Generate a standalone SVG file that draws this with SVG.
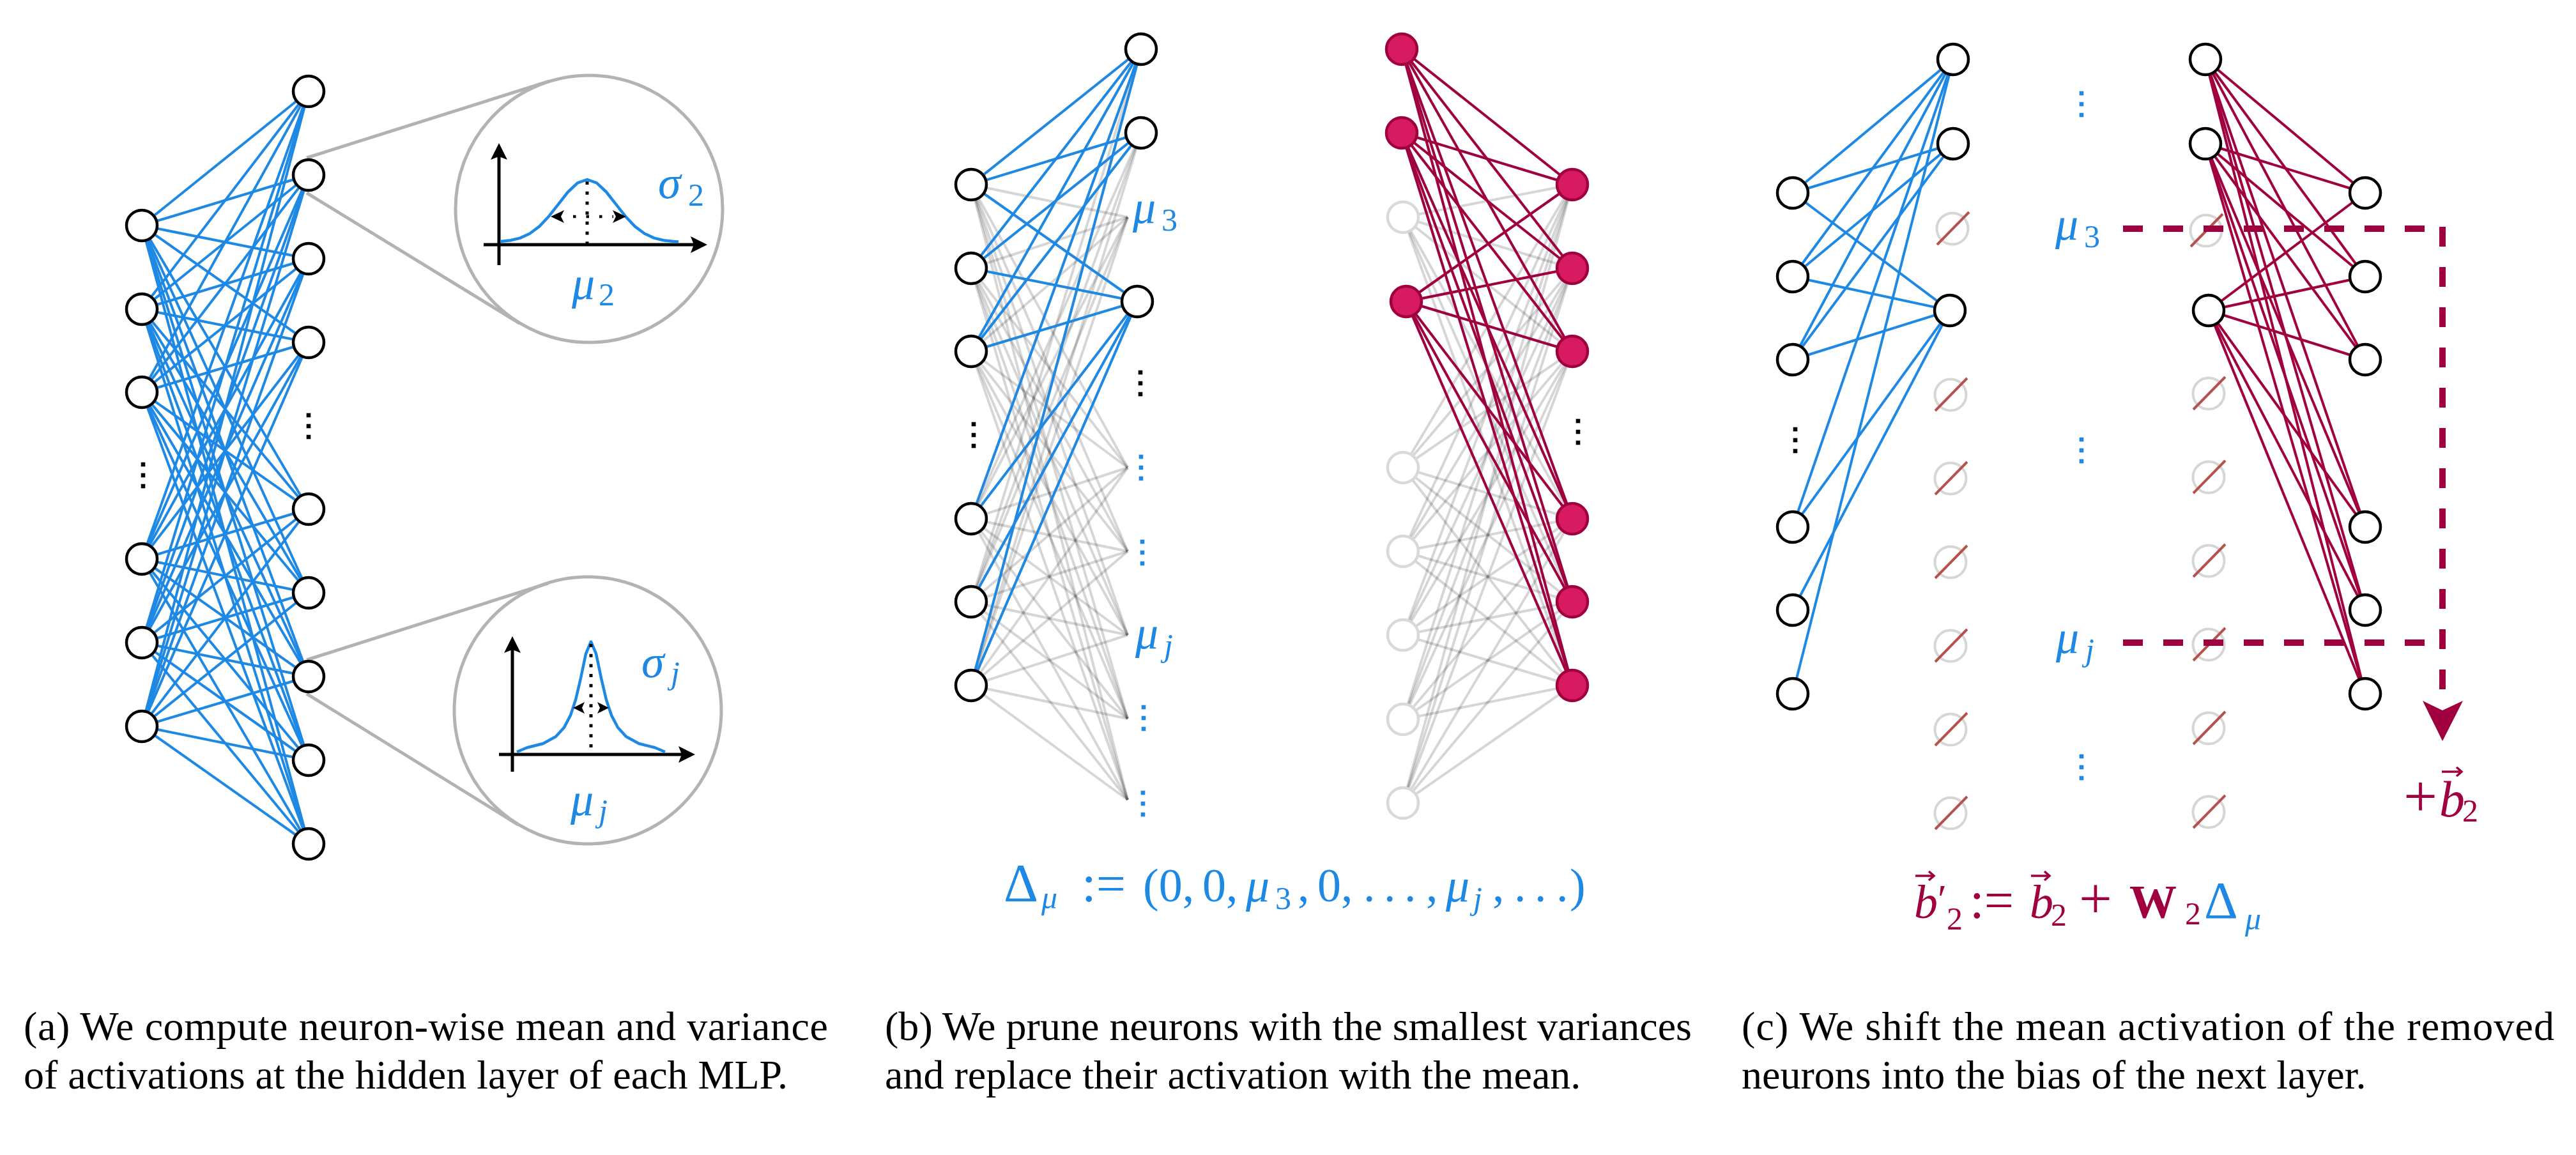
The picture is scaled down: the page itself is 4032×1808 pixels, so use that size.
<svg xmlns="http://www.w3.org/2000/svg" xmlns:xlink="http://www.w3.org/1999/xlink" width="4032" height="1808" viewBox="0 0 4032 1808">
<defs>
<style>
.n{fill:#fff;stroke:#000;stroke-width:4.5}
.rn{fill:#d81b60;stroke:#a0003f;stroke-width:4.5}
.gn{fill:#fff;stroke:#d9d9d9;stroke-width:4.5}
.bl line{stroke:#1e88e5;stroke-width:4}
.rd line{stroke:#a0003f;stroke-width:4}
.gr line{stroke:#000;stroke-opacity:.16;stroke-width:4}
.lens{fill:none;stroke:#b3b3b3;stroke-width:5}
.lensl{stroke:#000;stroke-opacity:.3;stroke-width:5}
.ax{stroke:#000;stroke-width:5;fill:none}
.dt{stroke:#000;stroke-width:5;fill:none;stroke-dasharray:5 10.7}
.gauss{fill:none;stroke:#1e88e5;stroke-width:4.5;stroke-linejoin:round}
.m{font-family:"Liberation Serif","DejaVu Serif",serif;font-style:italic;font-size:72px;fill:#1e88e5}
.up{font-style:normal}
.sb{font-size:50px}
.cap{font-family:"Liberation Serif","Times New Roman",serif;font-size:64px;fill:#000}
.dash{stroke:#a0003f;stroke-width:10;fill:none;stroke-dasharray:31 32}
.bk{fill:#000}
.bu{fill:#1e88e5}
</style>
<g id="vd"><rect x="-3.3" y="-20.3" width="6.6" height="6.6"/><rect x="-3.3" y="-3.3" width="6.6" height="6.6"/><rect x="-3.3" y="13.7" width="6.6" height="6.6"/></g>
<g id="emp"><circle r="24.5" fill="none" stroke="#d6d6d6" stroke-width="4"/><line x1="-24" y1="25" x2="26" y2="-26" stroke="#b5524b" stroke-width="4"/></g>
</defs>
<rect width="4032" height="1808" fill="#fff"/>

<!-- ===== Panel (a) connectors ===== -->
<g id="connectors-a" class="bl">
<line x1="222" y1="353" x2="483" y2="143"/><line x1="222" y1="353" x2="483" y2="274"/><line x1="222" y1="353" x2="483" y2="405"/><line x1="222" y1="353" x2="483" y2="536"/><line x1="222" y1="353" x2="483" y2="797"/><line x1="222" y1="353" x2="483" y2="928"/><line x1="222" y1="353" x2="483" y2="1059"/><line x1="222" y1="353" x2="483" y2="1190"/><line x1="222" y1="353" x2="483" y2="1321"/>
<line x1="222" y1="484" x2="483" y2="143"/><line x1="222" y1="484" x2="483" y2="274"/><line x1="222" y1="484" x2="483" y2="405"/><line x1="222" y1="484" x2="483" y2="536"/><line x1="222" y1="484" x2="483" y2="797"/><line x1="222" y1="484" x2="483" y2="928"/><line x1="222" y1="484" x2="483" y2="1059"/><line x1="222" y1="484" x2="483" y2="1190"/><line x1="222" y1="484" x2="483" y2="1321"/>
<line x1="222" y1="614" x2="483" y2="143"/><line x1="222" y1="614" x2="483" y2="274"/><line x1="222" y1="614" x2="483" y2="405"/><line x1="222" y1="614" x2="483" y2="536"/><line x1="222" y1="614" x2="483" y2="797"/><line x1="222" y1="614" x2="483" y2="928"/><line x1="222" y1="614" x2="483" y2="1059"/><line x1="222" y1="614" x2="483" y2="1190"/><line x1="222" y1="614" x2="483" y2="1321"/>
<line x1="222" y1="875" x2="483" y2="143"/><line x1="222" y1="875" x2="483" y2="274"/><line x1="222" y1="875" x2="483" y2="405"/><line x1="222" y1="875" x2="483" y2="536"/><line x1="222" y1="875" x2="483" y2="797"/><line x1="222" y1="875" x2="483" y2="928"/><line x1="222" y1="875" x2="483" y2="1059"/><line x1="222" y1="875" x2="483" y2="1190"/><line x1="222" y1="875" x2="483" y2="1321"/>
<line x1="222" y1="1006" x2="483" y2="143"/><line x1="222" y1="1006" x2="483" y2="274"/><line x1="222" y1="1006" x2="483" y2="405"/><line x1="222" y1="1006" x2="483" y2="536"/><line x1="222" y1="1006" x2="483" y2="797"/><line x1="222" y1="1006" x2="483" y2="928"/><line x1="222" y1="1006" x2="483" y2="1059"/><line x1="222" y1="1006" x2="483" y2="1190"/><line x1="222" y1="1006" x2="483" y2="1321"/>
<line x1="222" y1="1137" x2="483" y2="143"/><line x1="222" y1="1137" x2="483" y2="274"/><line x1="222" y1="1137" x2="483" y2="405"/><line x1="222" y1="1137" x2="483" y2="536"/><line x1="222" y1="1137" x2="483" y2="797"/><line x1="222" y1="1137" x2="483" y2="928"/><line x1="222" y1="1137" x2="483" y2="1059"/><line x1="222" y1="1137" x2="483" y2="1190"/><line x1="222" y1="1137" x2="483" y2="1321"/>
</g>

<!-- lens connectors -->
<g id="lens-lines">
<line class="lensl" x1="480" y1="247" x2="860" y2="127"/>
<line class="lensl" x1="480" y1="302" x2="813" y2="506"/>
<line class="lensl" x1="480" y1="1033" x2="858" y2="913"/>
<line class="lensl" x1="480" y1="1086" x2="811" y2="1291"/>
</g>

<!-- Panel (a) nodes -->
<g id="a-in-0"><circle class="n" cx="222" cy="353" r="24"/></g>
<g id="a-in-1"><circle class="n" cx="222" cy="484" r="24"/></g>
<g id="a-in-2"><circle class="n" cx="222" cy="614" r="24"/></g>
<g id="a-in-dots"><use xlink:href="#vd" href="#vd" x="224" y="744" class="bk"/></g>
<g id="a-in-3"><circle class="n" cx="222" cy="875" r="24"/></g>
<g id="a-in-4"><circle class="n" cx="222" cy="1006" r="24"/></g>
<g id="a-in-5"><circle class="n" cx="222" cy="1137" r="24"/></g>
<g id="a-hid-0"><circle class="n" cx="483" cy="143" r="24"/></g>
<g id="a-hid-1"><circle class="n" cx="483" cy="274" r="24"/></g>
<g id="a-hid-2"><circle class="n" cx="483" cy="405" r="24"/></g>
<g id="a-hid-3"><circle class="n" cx="483" cy="536" r="24"/></g>
<g id="a-hid-dots"><use xlink:href="#vd" href="#vd" x="483" y="667" class="bk"/></g>
<g id="a-hid-4"><circle class="n" cx="483" cy="797" r="24"/></g>
<g id="a-hid-5"><circle class="n" cx="483" cy="928" r="24"/></g>
<g id="a-hid-6"><circle class="n" cx="483" cy="1059" r="24"/></g>
<g id="a-hid-7"><circle class="n" cx="483" cy="1190" r="24"/></g>
<g id="a-hid-8"><circle class="n" cx="483" cy="1321" r="24"/></g>

<!-- Lens top -->
<g id="lens-top">
<circle class="lens" cx="922" cy="327" r="209"/>
<line class="ax" x1="781" y1="415" x2="781" y2="244"/>
<path d="M781 224L794 250L781 245L768 250Z" class="bk"/>
<line class="ax" x1="757" y1="383" x2="1088" y2="383"/>
<path d="M1107 383L1081 370L1086 383L1081 396Z" class="bk"/>
<polyline class="gauss" points="783,378 799,376.2 814,372.6 829,365.7 844,354.6 859,338.7 874,319.6 889,300.5 904,286.3 919,281 934,286.3 949,300.5 964,319.6 979,338.7 994,354.6 1009,365.7 1024,372.6 1039,376.2 1055,378 1062,378.5"/>
<line class="dt" x1="919" y1="284" x2="919" y2="381"/>
<line x1="882" y1="339" x2="960" y2="339" stroke="#000" stroke-width="4.5" stroke-dasharray="4.5 16" stroke-dashoffset="5.5"/>
<path d="M862 339L883 329L878 339L883 349Z" class="bk"/>
<path d="M980 339L959 329L964 339L959 349Z" class="bk"/>
<text class="m" x="1030" y="310" font-size="68">σ<tspan class="up sb" x="1077" y="322">2</tspan></text>
<text class="m" x="895" y="468">μ<tspan class="up sb" x="937" y="478">2</tspan></text>
</g>

<!-- Lens bottom -->
<g id="lens-bottom">
<circle class="lens" cx="920" cy="1112" r="209"/>
<line class="ax" x1="802" y1="1208" x2="802" y2="1016"/>
<path d="M802 996L815 1022L802 1017L789 1022Z" class="bk"/>
<line class="ax" x1="781" y1="1181" x2="1068" y2="1181"/>
<path d="M1088 1181L1062 1168L1067 1181L1062 1194Z" class="bk"/>
<polyline class="gauss" points="809,1177 825,1170.2 850,1164 870,1153 883,1138.7 893,1119.6 901,1095.5 909,1061.4 917,1023.3 925,1004.5 933,1023.3 941,1061.4 949,1095.5 957,1119.6 967,1138.7 980,1153 1000,1164 1025,1170.2 1041,1177"/>
<line class="dt" x1="925" y1="1008" x2="925" y2="1181"/>
<path d="M897 1108L915 1099L911 1108L915 1117Z" class="bk"/>
<path d="M953 1108L935 1099L939 1108L935 1117Z" class="bk"/>
<text class="m" x="1004" y="1060" font-size="68">σ<tspan class="sb" x="1050" y="1070">j</tspan></text>
<text class="m" x="893" y="1276">μ<tspan class="sb" x="937" y="1286">j</tspan></text>
</g>

<!-- ===== Panel (b) connectors ===== -->
<g id="connectors-b" >
<g class="gr">
<line x1="1520" y1="289" x2="1786" y2="77"/><line x1="1520" y1="289" x2="1786" y2="208"/><line x1="1520" y1="289" x2="1765" y2="340"/><line x1="1520" y1="289" x2="1780" y2="472"/><line x1="1520" y1="289" x2="1765" y2="732"/><line x1="1520" y1="289" x2="1765" y2="863"/><line x1="1520" y1="289" x2="1765" y2="994"/><line x1="1520" y1="289" x2="1765" y2="1125"/><line x1="1520" y1="289" x2="1765" y2="1252"/>
<line x1="1520" y1="420" x2="1786" y2="77"/><line x1="1520" y1="420" x2="1786" y2="208"/><line x1="1520" y1="420" x2="1765" y2="340"/><line x1="1520" y1="420" x2="1780" y2="472"/><line x1="1520" y1="420" x2="1765" y2="732"/><line x1="1520" y1="420" x2="1765" y2="863"/><line x1="1520" y1="420" x2="1765" y2="994"/><line x1="1520" y1="420" x2="1765" y2="1125"/><line x1="1520" y1="420" x2="1765" y2="1252"/>
<line x1="1520" y1="550" x2="1786" y2="77"/><line x1="1520" y1="550" x2="1786" y2="208"/><line x1="1520" y1="550" x2="1765" y2="340"/><line x1="1520" y1="550" x2="1780" y2="472"/><line x1="1520" y1="550" x2="1765" y2="732"/><line x1="1520" y1="550" x2="1765" y2="863"/><line x1="1520" y1="550" x2="1765" y2="994"/><line x1="1520" y1="550" x2="1765" y2="1125"/><line x1="1520" y1="550" x2="1765" y2="1252"/>
<line x1="1520" y1="812" x2="1786" y2="77"/><line x1="1520" y1="812" x2="1786" y2="208"/><line x1="1520" y1="812" x2="1765" y2="340"/><line x1="1520" y1="812" x2="1780" y2="472"/><line x1="1520" y1="812" x2="1765" y2="732"/><line x1="1520" y1="812" x2="1765" y2="863"/><line x1="1520" y1="812" x2="1765" y2="994"/><line x1="1520" y1="812" x2="1765" y2="1125"/><line x1="1520" y1="812" x2="1765" y2="1252"/>
<line x1="1520" y1="942" x2="1786" y2="77"/><line x1="1520" y1="942" x2="1786" y2="208"/><line x1="1520" y1="942" x2="1765" y2="340"/><line x1="1520" y1="942" x2="1780" y2="472"/><line x1="1520" y1="942" x2="1765" y2="732"/><line x1="1520" y1="942" x2="1765" y2="863"/><line x1="1520" y1="942" x2="1765" y2="994"/><line x1="1520" y1="942" x2="1765" y2="1125"/><line x1="1520" y1="942" x2="1765" y2="1252"/>
<line x1="1520" y1="1073" x2="1786" y2="77"/><line x1="1520" y1="1073" x2="1786" y2="208"/><line x1="1520" y1="1073" x2="1765" y2="340"/><line x1="1520" y1="1073" x2="1780" y2="472"/><line x1="1520" y1="1073" x2="1765" y2="732"/><line x1="1520" y1="1073" x2="1765" y2="863"/><line x1="1520" y1="1073" x2="1765" y2="994"/><line x1="1520" y1="1073" x2="1765" y2="1125"/><line x1="1520" y1="1073" x2="1765" y2="1252"/>
<line x1="2194" y1="77" x2="2461" y2="289"/><line x1="2194" y1="77" x2="2461" y2="420"/><line x1="2194" y1="77" x2="2461" y2="550"/><line x1="2194" y1="77" x2="2461" y2="812"/><line x1="2194" y1="77" x2="2461" y2="942"/><line x1="2194" y1="77" x2="2461" y2="1073"/>
<line x1="2194" y1="208" x2="2461" y2="289"/><line x1="2194" y1="208" x2="2461" y2="420"/><line x1="2194" y1="208" x2="2461" y2="550"/><line x1="2194" y1="208" x2="2461" y2="812"/><line x1="2194" y1="208" x2="2461" y2="942"/><line x1="2194" y1="208" x2="2461" y2="1073"/>
<line x1="2196" y1="340" x2="2461" y2="289"/><line x1="2196" y1="340" x2="2461" y2="420"/><line x1="2196" y1="340" x2="2461" y2="550"/><line x1="2196" y1="340" x2="2461" y2="812"/><line x1="2196" y1="340" x2="2461" y2="942"/><line x1="2196" y1="340" x2="2461" y2="1073"/>
<line x1="2201" y1="472" x2="2461" y2="289"/><line x1="2201" y1="472" x2="2461" y2="420"/><line x1="2201" y1="472" x2="2461" y2="550"/><line x1="2201" y1="472" x2="2461" y2="812"/><line x1="2201" y1="472" x2="2461" y2="942"/><line x1="2201" y1="472" x2="2461" y2="1073"/>
<line x1="2196" y1="732" x2="2461" y2="289"/><line x1="2196" y1="732" x2="2461" y2="420"/><line x1="2196" y1="732" x2="2461" y2="550"/><line x1="2196" y1="732" x2="2461" y2="812"/><line x1="2196" y1="732" x2="2461" y2="942"/><line x1="2196" y1="732" x2="2461" y2="1073"/>
<line x1="2196" y1="863" x2="2461" y2="289"/><line x1="2196" y1="863" x2="2461" y2="420"/><line x1="2196" y1="863" x2="2461" y2="550"/><line x1="2196" y1="863" x2="2461" y2="812"/><line x1="2196" y1="863" x2="2461" y2="942"/><line x1="2196" y1="863" x2="2461" y2="1073"/>
<line x1="2196" y1="994" x2="2461" y2="289"/><line x1="2196" y1="994" x2="2461" y2="420"/><line x1="2196" y1="994" x2="2461" y2="550"/><line x1="2196" y1="994" x2="2461" y2="812"/><line x1="2196" y1="994" x2="2461" y2="942"/><line x1="2196" y1="994" x2="2461" y2="1073"/>
<line x1="2196" y1="1126" x2="2461" y2="289"/><line x1="2196" y1="1126" x2="2461" y2="420"/><line x1="2196" y1="1126" x2="2461" y2="550"/><line x1="2196" y1="1126" x2="2461" y2="812"/><line x1="2196" y1="1126" x2="2461" y2="942"/><line x1="2196" y1="1126" x2="2461" y2="1073"/>
<line x1="2196" y1="1257" x2="2461" y2="289"/><line x1="2196" y1="1257" x2="2461" y2="420"/><line x1="2196" y1="1257" x2="2461" y2="550"/><line x1="2196" y1="1257" x2="2461" y2="812"/><line x1="2196" y1="1257" x2="2461" y2="942"/><line x1="2196" y1="1257" x2="2461" y2="1073"/>
</g>
<g class="bl">
<line x1="1520" y1="289" x2="1786" y2="77"/><line x1="1520" y1="289" x2="1786" y2="208"/><line x1="1520" y1="289" x2="1780" y2="472"/>
<line x1="1520" y1="420" x2="1786" y2="77"/><line x1="1520" y1="420" x2="1786" y2="208"/><line x1="1520" y1="420" x2="1780" y2="472"/>
<line x1="1520" y1="550" x2="1786" y2="77"/><line x1="1520" y1="550" x2="1786" y2="208"/><line x1="1520" y1="550" x2="1780" y2="472"/>
<line x1="1520" y1="812" x2="1786" y2="77"/><line x1="1520" y1="812" x2="1780" y2="472"/>
<line x1="1520" y1="942" x2="1780" y2="472"/>
<line x1="1520" y1="1073" x2="1786" y2="77"/><line x1="1520" y1="1073" x2="1780" y2="472"/>
</g>
<g class="rd">
<line x1="2194" y1="77" x2="2461" y2="289"/><line x1="2194" y1="77" x2="2461" y2="420"/><line x1="2194" y1="77" x2="2461" y2="550"/><line x1="2194" y1="77" x2="2461" y2="812"/><line x1="2194" y1="77" x2="2461" y2="942"/><line x1="2194" y1="77" x2="2461" y2="1073"/>
<line x1="2194" y1="208" x2="2461" y2="289"/><line x1="2194" y1="208" x2="2461" y2="420"/><line x1="2194" y1="208" x2="2461" y2="550"/><line x1="2194" y1="208" x2="2461" y2="812"/><line x1="2194" y1="208" x2="2461" y2="942"/><line x1="2194" y1="208" x2="2461" y2="1073"/>
<line x1="2201" y1="472" x2="2461" y2="289"/><line x1="2201" y1="472" x2="2461" y2="420"/><line x1="2201" y1="472" x2="2461" y2="550"/><line x1="2201" y1="472" x2="2461" y2="812"/><line x1="2201" y1="472" x2="2461" y2="942"/><line x1="2201" y1="472" x2="2461" y2="1073"/>
</g>
</g>

<!-- Panel (b) nodes -->
<g id="b-in-0"><circle class="n" cx="1520" cy="289" r="24"/></g>
<g id="b-in-1"><circle class="n" cx="1520" cy="420" r="24"/></g>
<g id="b-in-2"><circle class="n" cx="1520" cy="550" r="24"/></g>
<g id="b-in-dots"><use xlink:href="#vd" href="#vd" x="1524" y="681" class="bk"/></g>
<g id="b-in-3"><circle class="n" cx="1520" cy="812" r="24"/></g>
<g id="b-in-4"><circle class="n" cx="1520" cy="942" r="24"/></g>
<g id="b-in-5"><circle class="n" cx="1520" cy="1073" r="24"/></g>
<g id="b-hid-0"><circle class="n" cx="1786" cy="77" r="24"/></g>
<g id="b-hid-1"><circle class="n" cx="1786" cy="208" r="24"/></g>
<g id="b-hid-mu3"><text class="m" x="1773" y="349">μ<tspan class="up sb" x="1818" y="361">3</tspan></text></g>
<g id="b-hid-3"><circle class="n" cx="1780" cy="472" r="24"/></g>
<g id="b-hid-dots"><use xlink:href="#vd" href="#vd" x="1785" y="600" class="bk"/></g>
<g id="b-hid-bdots1"><use xlink:href="#vd" href="#vd" x="1786" y="732" class="bu"/></g>
<g id="b-hid-bdots2"><use xlink:href="#vd" href="#vd" x="1788" y="865" class="bu"/></g>
<g id="b-hid-muj"><text class="m" x="1777" y="1015">μ<tspan class="sb" x="1822" y="1027">j</tspan></text></g>
<g id="b-hid-bdots3"><use xlink:href="#vd" href="#vd" x="1790" y="1124" class="bu"/></g>
<g id="b-hid-bdots4"><use xlink:href="#vd" href="#vd" x="1789" y="1258" class="bu"/></g>
<g id="b-h2-0"><circle class="rn" cx="2194" cy="77" r="24"/></g>
<g id="b-h2-1"><circle class="rn" cx="2194" cy="208" r="24"/></g>
<g id="b-h2-2"><circle class="gn" cx="2196" cy="340" r="24"/></g>
<g id="b-h2-3"><circle class="rn" cx="2201" cy="472" r="24"/></g>
<g id="b-h2-4"><circle class="gn" cx="2196" cy="732" r="24"/></g>
<g id="b-h2-5"><circle class="gn" cx="2196" cy="863" r="24"/></g>
<g id="b-h2-6"><circle class="gn" cx="2196" cy="994" r="24"/></g>
<g id="b-h2-7"><circle class="gn" cx="2196" cy="1126" r="24"/></g>
<g id="b-h2-8"><circle class="gn" cx="2196" cy="1257" r="24"/></g>
<g id="b-out-0"><circle class="rn" cx="2461" cy="289" r="24"/></g>
<g id="b-out-1"><circle class="rn" cx="2461" cy="420" r="24"/></g>
<g id="b-out-2"><circle class="rn" cx="2461" cy="550" r="24"/></g>
<g id="b-out-dots"><use xlink:href="#vd" href="#vd" x="2470" y="676" class="bk"/></g>
<g id="b-out-3"><circle class="rn" cx="2461" cy="812" r="24"/></g>
<g id="b-out-4"><circle class="rn" cx="2461" cy="942" r="24"/></g>
<g id="b-out-5"><circle class="rn" cx="2461" cy="1073" r="24"/></g>

<!-- ===== Panel (c) connectors ===== -->
<g id="connectors-c">
<g class="bl">
<line x1="2806" y1="302" x2="3057" y2="93"/><line x1="2806" y1="302" x2="3057" y2="225"/><line x1="2806" y1="302" x2="3052" y2="486"/>
<line x1="2806" y1="433" x2="3057" y2="93"/><line x1="2806" y1="433" x2="3057" y2="225"/><line x1="2806" y1="433" x2="3052" y2="486"/>
<line x1="2806" y1="563" x2="3057" y2="93"/><line x1="2806" y1="563" x2="3057" y2="225"/><line x1="2806" y1="563" x2="3052" y2="486"/>
<line x1="2806" y1="825" x2="3057" y2="93"/><line x1="2806" y1="825" x2="3052" y2="486"/>
<line x1="2806" y1="955" x2="3052" y2="486"/>
<line x1="2806" y1="1086" x2="3057" y2="93"/>
</g>
<g class="rd">
<line x1="3452" y1="93" x2="3702" y2="302"/><line x1="3452" y1="93" x2="3702" y2="433"/><line x1="3452" y1="93" x2="3702" y2="563"/><line x1="3452" y1="93" x2="3702" y2="825"/><line x1="3452" y1="93" x2="3702" y2="955"/><line x1="3452" y1="93" x2="3702" y2="1086"/>
<line x1="3452" y1="225" x2="3702" y2="302"/><line x1="3452" y1="225" x2="3702" y2="433"/><line x1="3452" y1="225" x2="3702" y2="563"/><line x1="3452" y1="225" x2="3702" y2="825"/><line x1="3452" y1="225" x2="3702" y2="955"/><line x1="3452" y1="225" x2="3702" y2="1086"/>
<line x1="3457" y1="486" x2="3702" y2="302"/><line x1="3457" y1="486" x2="3702" y2="433"/><line x1="3457" y1="486" x2="3702" y2="563"/><line x1="3457" y1="486" x2="3702" y2="825"/><line x1="3457" y1="486" x2="3702" y2="955"/><line x1="3457" y1="486" x2="3702" y2="1086"/>
</g>
</g>

<!-- Panel (c) nodes -->
<g id="c-in-0"><circle class="n" cx="2806" cy="302" r="24"/></g>
<g id="c-in-1"><circle class="n" cx="2806" cy="433" r="24"/></g>
<g id="c-in-2"><circle class="n" cx="2806" cy="563" r="24"/></g>
<g id="c-in-dots"><use xlink:href="#vd" href="#vd" x="2810" y="689" class="bk"/></g>
<g id="c-in-3"><circle class="n" cx="2806" cy="825" r="24"/></g>
<g id="c-in-4"><circle class="n" cx="2806" cy="955" r="24"/></g>
<g id="c-in-5"><circle class="n" cx="2806" cy="1086" r="24"/></g>
<g id="c-hid-0"><circle class="n" cx="3057" cy="93" r="24"/></g>
<g id="c-hid-1"><circle class="n" cx="3057" cy="225" r="24"/></g>
<g id="c-hid-2"><use xlink:href="#emp" href="#emp" x="3056" y="358"/></g>
<g id="c-hid-3"><circle class="n" cx="3052" cy="486" r="24"/></g>
<g id="c-hid-4"><use xlink:href="#emp" href="#emp" x="3053" y="618"/></g>
<g id="c-hid-5"><use xlink:href="#emp" href="#emp" x="3053" y="749"/></g>
<g id="c-hid-6"><use xlink:href="#emp" href="#emp" x="3053" y="880"/></g>
<g id="c-hid-7"><use xlink:href="#emp" href="#emp" x="3053" y="1011"/></g>
<g id="c-hid-8"><use xlink:href="#emp" href="#emp" x="3053" y="1142"/></g>
<g id="c-hid-9"><use xlink:href="#emp" href="#emp" x="3053" y="1273"/></g>
<g id="c-mid-dots1"><use xlink:href="#vd" href="#vd" x="3258" y="163" class="bu"/></g>
<g id="c-mid-mu3"><text class="m" x="3217" y="375">μ<tspan class="up sb" x="3262" y="387">3</tspan></text></g>
<g id="c-mid-dots2"><use xlink:href="#vd" href="#vd" x="3258" y="705" class="bu"/></g>
<g id="c-mid-muj"><text class="m" x="3218" y="1022">μ<tspan class="sb" x="3264" y="1034">j</tspan></text></g>
<g id="c-mid-dots3"><use xlink:href="#vd" href="#vd" x="3258" y="1201" class="bu"/></g>
<g id="c-h2-0"><circle class="n" cx="3452" cy="93" r="24"/></g>
<g id="c-h2-1"><circle class="n" cx="3452" cy="225" r="24"/></g>
<g id="c-h2-2"><use xlink:href="#emp" href="#emp" x="3453" y="361"/></g>
<g id="c-h2-3"><circle class="n" cx="3457" cy="486" r="24"/></g>
<g id="c-h2-4"><use xlink:href="#emp" href="#emp" x="3457" y="616"/></g>
<g id="c-h2-5"><use xlink:href="#emp" href="#emp" x="3457" y="747"/></g>
<g id="c-h2-6"><use xlink:href="#emp" href="#emp" x="3457" y="878"/></g>
<g id="c-h2-7"><use xlink:href="#emp" href="#emp" x="3457" y="1009"/></g>
<g id="c-h2-8"><use xlink:href="#emp" href="#emp" x="3457" y="1140"/></g>
<g id="c-h2-9"><use xlink:href="#emp" href="#emp" x="3457" y="1271"/></g>
<g id="c-out-0"><circle class="n" cx="3702" cy="302" r="24"/></g>
<g id="c-out-1"><circle class="n" cx="3702" cy="433" r="24"/></g>
<g id="c-out-2"><circle class="n" cx="3702" cy="563" r="24"/></g>
<g id="c-out-3"><circle class="n" cx="3702" cy="825" r="24"/></g>
<g id="c-out-4"><circle class="n" cx="3702" cy="955" r="24"/></g>
<g id="c-out-5"><circle class="n" cx="3702" cy="1086" r="24"/></g>

<!-- dashed shift arrow -->
<g id="shift-arrow">
<path class="dash" d="M3323 358H3800"/>
<path class="dash" d="M3323 1006H3800"/>
<path class="dash" d="M3823 355V1098"/>
<path d="M3792 1097L3823 1112L3855 1097L3823 1160Z" fill="#a0003f"/>
</g>
<g id="label-b2">
<text class="m" x="3762" y="1278" style="fill:#a0003f;font-size:80px"><tspan class="up" font-size="94">+</tspan><tspan x="3818">b</tspan><tspan class="up sb" x="3854" y="1286">2</tspan></text>
<path d="M3822 1208H3852M3845 1201L3853 1208L3845 1215" stroke="#a0003f" stroke-width="3.5" fill="none"/>
</g>

<!-- formulas -->
<g id="formula-b">
<text class="m up" x="1571" y="1411" style="font-size:74px"><tspan font-size="84">Δ</tspan><tspan class="sb" x="1630" y="1422" font-style="italic">μ</tspan><tspan x="1693" y="1411" font-size="82">:=</tspan><tspan x="1789">(0,</tspan><tspan x="1882">0,</tspan><tspan x="1950" font-style="italic">μ</tspan><tspan class="sb" x="1996" y="1423">3</tspan><tspan x="2031" y="1411">,</tspan><tspan x="2062">0,</tspan><tspan x="2134 2166 2198">...</tspan><tspan x="2232">,</tspan><tspan x="2263" font-style="italic">μ</tspan><tspan class="sb" x="2306" y="1423" font-style="italic">j</tspan><tspan x="2336" y="1411">,</tspan><tspan x="2370 2402 2436">...</tspan><tspan x="2457">)</tspan></text>
</g>
<g id="formula-c">
<text class="m" x="2996" y="1437" style="fill:#a0003f;font-size:74px">b<tspan class="up" font-size="64" dy="-8">′</tspan><tspan class="up sb" dy="26">2</tspan><tspan class="up" x="3083" y="1437" font-size="82">:=</tspan><tspan x="3177">b</tspan><tspan class="up sb" x="3210" y="1449">2</tspan><tspan class="up" x="3254" y="1437" font-size="92">+</tspan><tspan class="up" x="3333" font-weight="bold">W</tspan><tspan class="up sb" x="3420" y="1447">2</tspan><tspan class="up" x="3450" y="1437" style="fill:#1e88e5;font-size:82px">Δ</tspan><tspan class="sb" x="3514" y="1455" style="fill:#1e88e5">μ</tspan></text>
<path d="M2998 1371H3026M3019 1364L3027 1371L3019 1378M3179 1371H3207M3200 1364L3208 1371L3200 1378" stroke="#a0003f" stroke-width="3.5" fill="none"/>
</g>

<!-- captions -->
<g id="caption-a">
<text class="cap" x="37" y="1628" textLength="1259" lengthAdjust="spacing">(a) We compute neuron-wise mean and variance</text>
<text class="cap" x="37" y="1704">of activations at the hidden layer of each MLP.</text>
</g>
<g id="caption-b">
<text class="cap" x="1385" y="1628" textLength="1263" lengthAdjust="spacing">(b) We prune neurons with the smallest variances</text>
<text class="cap" x="1385" y="1704">and replace their activation with the mean.</text>
</g>
<g id="caption-c">
<text class="cap" x="2726" y="1628" textLength="1272" lengthAdjust="spacing">(c) We shift the mean activation of the removed</text>
<text class="cap" x="2726" y="1704">neurons into the bias of the next layer.</text>
</g>
</svg>
